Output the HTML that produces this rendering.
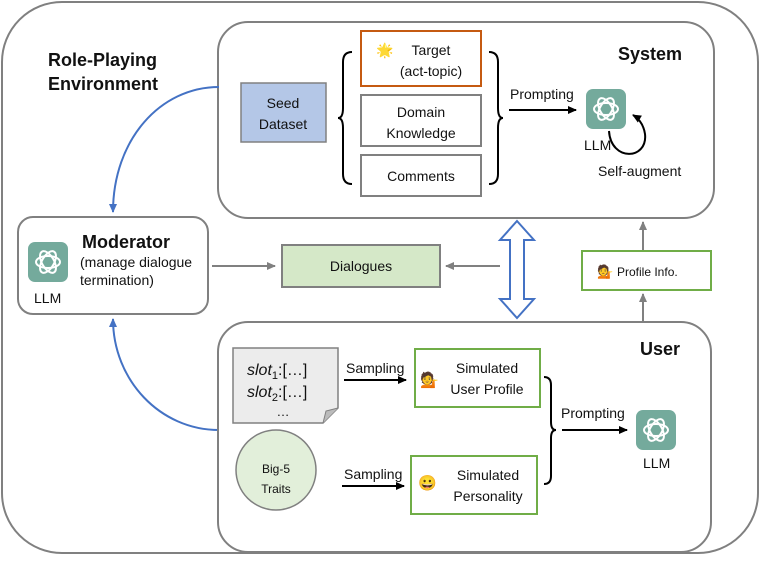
<!DOCTYPE html>
<html><head><meta charset="utf-8"><style>
body{margin:0;background:#fff}
text{font-family:"Liberation Sans",sans-serif;fill:#111}
</style></head><body>
<svg width="762" height="557" viewBox="0 0 762 557" xmlns="http://www.w3.org/2000/svg">
<defs>
<marker id="ak" markerWidth="10" markerHeight="10" refX="8" refY="5" orient="auto" markerUnits="userSpaceOnUse"><path d="M0,1 L9,5 L0,9 z" fill="#000"/></marker>
<marker id="ag" markerWidth="10" markerHeight="10" refX="8" refY="5" orient="auto" markerUnits="userSpaceOnUse"><path d="M0,1 L9,5 L0,9 z" fill="#808080"/></marker>
<marker id="ab" markerWidth="10" markerHeight="10" refX="8" refY="5" orient="auto" markerUnits="userSpaceOnUse"><path d="M0,1 L9,5 L0,9 z" fill="#4472c4"/></marker>
<g id="llm"><rect x="0" y="0" width="40" height="40" rx="7" fill="#74aa9c"/><g fill="none" stroke="#fff" stroke-width="2"><ellipse cx="20" cy="20" rx="12" ry="6"/><ellipse cx="20" cy="20" rx="12" ry="6" transform="rotate(60 20 20)"/><ellipse cx="20" cy="20" rx="12" ry="6" transform="rotate(120 20 20)"/></g></g>
</defs>
<rect x="2" y="2" width="756" height="551" rx="60" fill="#fff" stroke="#808080" stroke-width="2"/>
<text x="48" y="66" font-size="18" font-weight="bold">Role-Playing</text>
<text x="48" y="90" font-size="18" font-weight="bold">Environment</text>
<!-- System -->
<rect x="218" y="22" width="496" height="196" rx="30" fill="#fff" stroke="#808080" stroke-width="2"/>
<text x="682" y="60" font-size="18" font-weight="bold" text-anchor="end">System</text>
<rect x="241" y="83" width="85" height="59" fill="#b4c7e7" stroke="#808080" stroke-width="1.5"/>
<text x="283" y="108" font-size="14" text-anchor="middle">Seed</text>
<text x="283" y="129" font-size="14" text-anchor="middle">Dataset</text>
<path d="M352,52 Q343,52 343,62 L343,108 Q343,118 338,118 Q343,118 343,128 L343,174 Q343,184 352,184" fill="none" stroke="#000" stroke-width="2"/>
<rect x="361" y="31" width="120" height="55" fill="#fff" stroke="#c55a11" stroke-width="2"/>
<text x="376" y="55" font-size="14">🌟</text>
<text x="431" y="55" font-size="14" text-anchor="middle">Target</text>
<text x="431" y="76" font-size="14" text-anchor="middle">(act-topic)</text>
<rect x="361" y="95" width="120" height="51" fill="#fff" stroke="#808080" stroke-width="2"/>
<text x="421" y="117" font-size="14" text-anchor="middle">Domain</text>
<text x="421" y="138" font-size="14" text-anchor="middle">Knowledge</text>
<rect x="361" y="155" width="120" height="41" fill="#fff" stroke="#808080" stroke-width="2"/>
<text x="421" y="181" font-size="14" text-anchor="middle">Comments</text>
<path d="M489,52 Q498,52 498,62 L498,108 Q498,118 503,118 Q498,118 498,128 L498,174 Q498,184 489,184" fill="none" stroke="#000" stroke-width="2"/>
<text x="510" y="99" font-size="14">Prompting</text>
<line x1="509" y1="110" x2="576" y2="110" stroke="#000" stroke-width="2" marker-end="url(#ak)"/>
<use href="#llm" x="586" y="89"/>
<text x="584" y="150" font-size="14">LLM</text>
<path d="M609,131 C611,162 648,160 645,134 Q643,121 633,115" fill="none" stroke="#000" stroke-width="2" marker-end="url(#ak)"/>
<text x="598" y="176" font-size="14">Self-augment</text>
<!-- Moderator -->
<rect x="18" y="217" width="190" height="97" rx="15" fill="#fff" stroke="#808080" stroke-width="2"/>
<use href="#llm" x="28" y="242"/>
<text x="34" y="303" font-size="14">LLM</text>
<text x="82" y="248" font-size="18" font-weight="bold">Moderator</text>
<text x="80" y="267" font-size="14">(manage dialogue</text>
<text x="80" y="285" font-size="14">termination)</text>
<line x1="212" y1="266" x2="275" y2="266" stroke="#808080" stroke-width="2" marker-end="url(#ag)"/>
<rect x="282" y="245" width="158" height="42" fill="#d5e8c8" stroke="#808080" stroke-width="2"/>
<text x="361" y="271" font-size="14" text-anchor="middle">Dialogues</text>
<line x1="500" y1="266" x2="446" y2="266" stroke="#808080" stroke-width="2" marker-end="url(#ag)"/>
<!-- double arrow -->
<path d="M517,221 L534,240 L524,240 L524,299 L534,299 L517,318 L500,299 L510,299 L510,240 L500,240 Z" fill="#fff" stroke="#4472c4" stroke-width="2"/>
<!-- profile info -->
<rect x="582" y="251" width="129" height="39" fill="#fff" stroke="#70ad47" stroke-width="2"/>
<text x="597" y="276" font-size="13">💁</text>
<text x="617" y="276" font-size="12">Profile Info.</text>
<line x1="643" y1="250" x2="643" y2="222" stroke="#808080" stroke-width="2" marker-end="url(#ag)"/>
<line x1="643" y1="321" x2="643" y2="294" stroke="#808080" stroke-width="2" marker-end="url(#ag)"/>
<!-- blue curves -->
<path d="M219,87 C160,87 113,140 113,212" fill="none" stroke="#4472c4" stroke-width="2" marker-end="url(#ab)"/>
<path d="M219,430 C160,430 113,380 113,319" fill="none" stroke="#4472c4" stroke-width="2" marker-end="url(#ab)"/>
<!-- User -->
<rect x="218" y="322" width="493" height="230" rx="30" fill="#fff" stroke="#808080" stroke-width="2"/>
<text x="680" y="355" font-size="18" font-weight="bold" text-anchor="end">User</text>
<path d="M233,348 L338,348 L338,408 L323,423 L233,423 Z" fill="#ececec" stroke="#808080" stroke-width="1.5"/>
<path d="M338,408 L326,411 L323,423" fill="#bbb" stroke="#808080" stroke-width="1"/>
<text x="247" y="375" font-size="16" font-family="Liberation Serif" font-style="italic">slot<tspan font-size="11" dy="4" font-style="normal">1</tspan><tspan dy="-4" font-style="normal">:[…]</tspan></text>
<text x="247" y="397" font-size="16" font-family="Liberation Serif" font-style="italic">slot<tspan font-size="11" dy="4" font-style="normal">2</tspan><tspan dy="-4" font-style="normal">:[…]</tspan></text>
<text x="283" y="416" font-size="13" text-anchor="middle">…</text>
<circle cx="276" cy="470" r="40" fill="#e2efda" stroke="#808080" stroke-width="1.5"/>
<text x="276" y="473" font-size="12" text-anchor="middle">Big-5</text>
<text x="276" y="493" font-size="12" text-anchor="middle">Traits</text>
<text x="346" y="373" font-size="14">Sampling</text>
<line x1="344" y1="380" x2="406" y2="380" stroke="#000" stroke-width="2" marker-end="url(#ak)"/>
<text x="344" y="479" font-size="14">Sampling</text>
<line x1="342" y1="486" x2="404" y2="486" stroke="#000" stroke-width="2" marker-end="url(#ak)"/>
<rect x="415" y="349" width="125" height="58" fill="#fff" stroke="#70ad47" stroke-width="2"/>
<text x="420" y="385" font-size="15">💁</text>
<text x="487" y="373" font-size="14" text-anchor="middle">Simulated</text>
<text x="487" y="394" font-size="14" text-anchor="middle">User Profile</text>
<rect x="411" y="456" width="126" height="58" fill="#fff" stroke="#70ad47" stroke-width="2"/>
<text x="418" y="488" font-size="15">😀</text>
<text x="488" y="480" font-size="14" text-anchor="middle">Simulated</text>
<text x="488" y="501" font-size="14" text-anchor="middle">Personality</text>
<path d="M544,377 Q551,377 551,385 L551,422 Q551,430 556,430 Q551,430 551,438 L551,476 Q551,484 544,484" fill="none" stroke="#000" stroke-width="2"/>
<text x="561" y="418" font-size="14">Prompting</text>
<line x1="562" y1="430" x2="627" y2="430" stroke="#000" stroke-width="2" marker-end="url(#ak)"/>
<use href="#llm" x="636" y="410"/>
<text x="643" y="468" font-size="14">LLM</text>
</svg>
</body></html>
